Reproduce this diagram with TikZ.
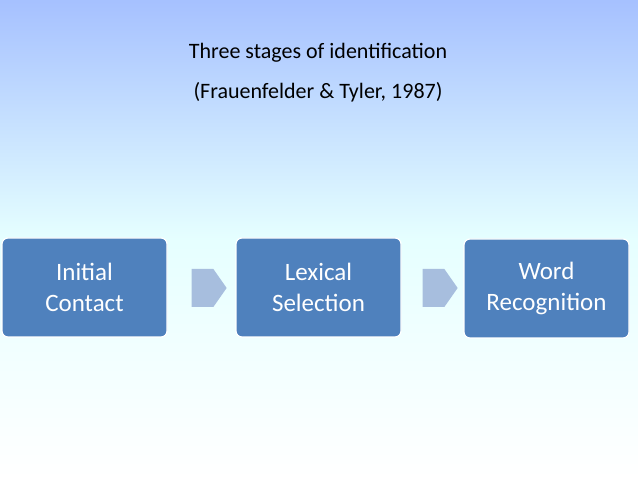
\documentclass[tikz,border=0pt]{standalone}
\usepackage{fontspec}
\setmainfont{Carlito}
\usetikzlibrary{shapes.arrows}
\definecolor{boxblue}{HTML}{4F81BD}
\definecolor{arrblue}{HTML}{A7BEDE}
\tikzset{
  stage/.style={draw=white, line width=1.2pt, fill=boxblue, rounded corners=6pt, text=white,
    minimum width=165pt, minimum height=99pt, align=center, font=\fontsize{25}{31}\selectfont, inner sep=2pt},
  arr/.style={single arrow, fill=arrblue, draw=none, minimum height=35pt, minimum width=38pt, single arrow head extend=0pt, single arrow tip angle=110, inner sep=0pt}
}
\begin{document}
\begin{tikzpicture}[x=1pt,y=1pt]
\useasboundingbox (0,0) rectangle (638,478);
\shade[top color=cyan!30!blue!35!white, bottom color=white, middle color=cyan!10!white] (0,0) rectangle (638,478);
\node[font=\fontsize{22}{40}\selectfont, align=center, text=black] (title) at (318,405) {Three stages of identification\\(Frauenfelder \& Tyler, 1987)};
\node[stage] (a) at (84.5,190.5) {Initial\\Contact};
\node[stage] (b) at (318.5,190.5) {Lexical\\Selection};
\node[stage] (c) at (546.5,189.5) {Word\\Recognition};
\node[arr] (a1) at (202.5,190) {};
\node[arr] (a2) at (433.5,190) {};
\end{tikzpicture}
\end{document}
